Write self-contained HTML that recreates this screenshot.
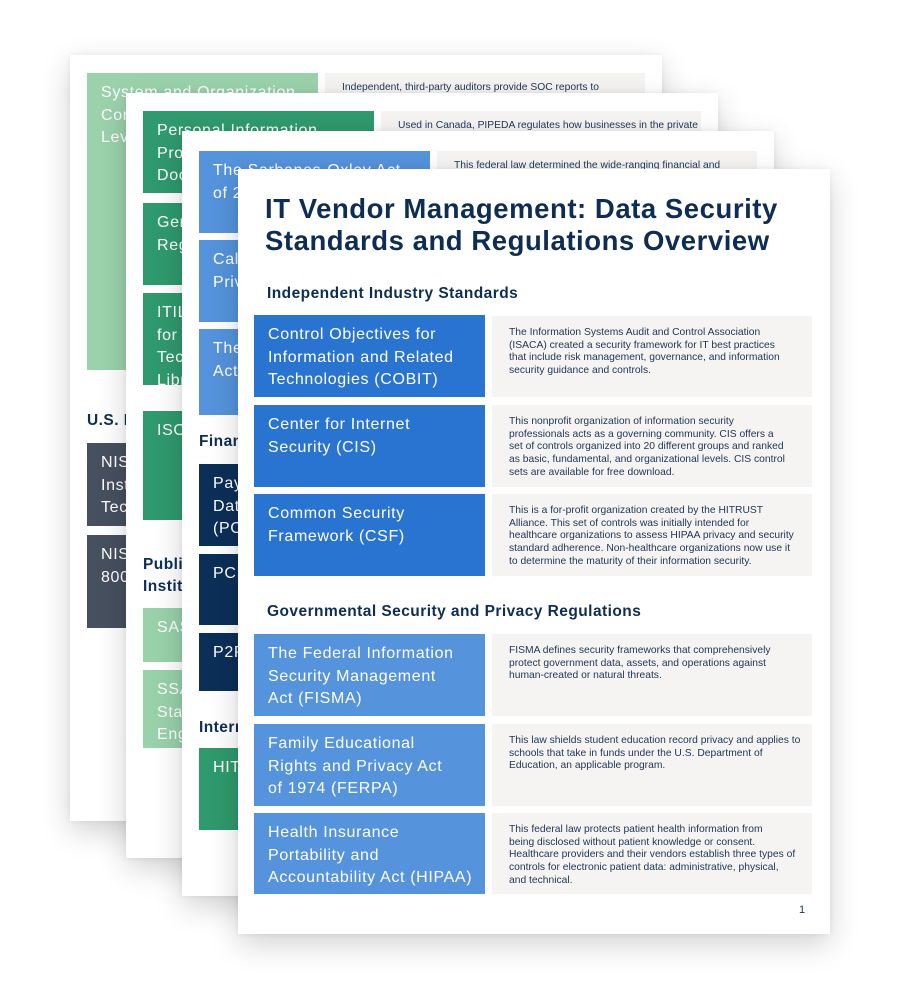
<!DOCTYPE html>
<html><head><meta charset="utf-8">
<style>
*{margin:0;padding:0;box-sizing:border-box}
body{width:900px;height:990px;background:#fff;position:relative;overflow:hidden;font-family:"Liberation Sans",sans-serif}
.pg{position:absolute;width:592px;background:#fff;box-shadow:0 10px 28px rgba(0,0,0,.18),0 0 6px rgba(0,0,0,.06);overflow:hidden}
.b{position:absolute;left:17px;width:231px;color:#fff;font-size:16px;line-height:22.5px;padding:9px 0 0 14px;letter-spacing:.65px;white-space:nowrap;overflow:hidden}
.d{position:absolute;left:255px;width:320px;background:#f5f4f2;color:#1e3556;font-size:10.3px;line-height:12.7px;padding:11px 0 0 17px;white-space:nowrap;overflow:hidden}
.h{position:absolute;left:17px;color:#0e2d55;font-weight:bold;font-size:15.5px;line-height:22px;letter-spacing:.45px;white-space:nowrap}
.g1{background:#9bd2ac}.g2{background:#2f9a6d}.bl{background:#5593dc}.nv{background:#0c2f58}.dk{background:#47505f}.cb{background:#2a74d1}.lg{background:#98d1aa}
</style></head><body>

<div class="pg" style="left:70px;top:55px;height:766px">
<div class="b g1" style="top:18px;height:297px">System and Organization<br>Controls (SOC) Service<br>Levels</div>
<div class="d" style="top:18px;height:297px;padding-top:9px">Independent, third-party auditors provide SOC reports to</div>
<div class="h" style="top:355px">U.S. National Standards</div>
<div class="b dk" style="top:388px;height:83px">NIST National<br>Institute of Standards and<br>Technology</div>
<div class="b dk" style="top:480px;height:93px">NIST Special Publication<br>800-53</div>
</div>

<div class="pg" style="left:126px;top:93px;height:765px">
<div class="b g2" style="top:18px;height:82px">Personal Information<br>Protection and Electronic<br>Documents Act</div>
<div class="d" style="top:18px;height:82px;padding-top:9px">Used in Canada, PIPEDA regulates how businesses in the private</div>
<div class="b g2" style="top:110px;height:82px">General Data Protection<br>Regulation (GDPR)</div>
<div class="b g2" style="top:200px;height:92px">ITIL Information<br>for Information<br>Technology Infrastructure<br>Library</div>
<div class="b g2" style="top:318px;height:109px">ISO 27001</div>
<div class="h" style="top:461px">Public Accounting<br>Institute Standards</div>
<div class="b lg" style="top:515px;height:54px">SAS 70</div>
<div class="b lg" style="top:577px;height:78px">SSAE 16 Statement on<br>Standards for Attestation<br>Engagements</div>
</div>

<div class="pg" style="left:182px;top:131px;height:765px">
<div class="b bl" style="top:20px;height:82px">The Sarbanes-Oxley Act<br>of 2002 (SOX)</div>
<div class="d" style="top:20px;height:82px;padding-top:9px">This federal law determined the wide-ranging financial and</div>
<div class="b bl" style="top:109px;height:82px">California Consumer<br>Privacy Act (CCPA)</div>
<div class="b bl" style="top:198px;height:86px">The Gramm-Leach-Bliley<br>Act (GLBA)</div>
<div class="h" style="top:300px">Financial Industry Standards</div>
<div class="b nv" style="top:333px;height:82px">Payment Card Industry<br>Data Security Standard<br>(PCI DSS)</div>
<div class="b nv" style="top:423px;height:71px">PCI PIN Security</div>
<div class="b nv" style="top:502px;height:58px">P2PE</div>
<div class="h" style="top:586px">International Standards</div>
<div class="b g2" style="top:617px;height:82px">HITRUST</div>
</div>

<div class="pg" style="left:238px;top:169px;height:765px">
<div style="position:absolute;left:27px;top:24px;color:#0e2d55;font-weight:bold;font-size:27.5px;line-height:31.5px;letter-spacing:.55px;white-space:nowrap">IT Vendor Management: Data Security<br>Standards and Regulations Overview</div>
<div class="h" style="top:114px;left:29px">Independent Industry Standards</div>
<div class="b cb" style="left:16px;top:146px;height:82px">Control Objectives for<br>Information and Related<br>Technologies (COBIT)</div>
<div class="d" style="left:254px;top:147px;height:81px">The Information Systems Audit and Control Association<br>(ISACA) created a security framework for IT best practices<br>that include risk management, governance, and information<br>security guidance and controls.</div>
<div class="b cb" style="left:16px;top:236px;height:82px">Center for Internet<br>Security (CIS)</div>
<div class="d" style="left:254px;top:236px;height:82px">This nonprofit organization of information security<br>professionals acts as a governing community. CIS offers a<br>set of controls organized into 20 different groups and ranked<br>as basic, fundamental, and organizational levels. CIS control<br>sets are available for free download.</div>
<div class="b cb" style="left:16px;top:325px;height:82px">Common Security<br>Framework (CSF)</div>
<div class="d" style="left:254px;top:325px;height:82px">This is a for-profit organization created by the HITRUST<br>Alliance. This set of controls was initially intended for<br>healthcare organizations to assess HIPAA privacy and security<br>standard adherence. Non-healthcare organizations now use it<br>to determine the maturity of their information security.</div>
<div class="h" style="top:432px;left:29px">Governmental Security and Privacy Regulations</div>
<div class="b bl" style="left:16px;top:465px;height:82px">The Federal Information<br>Security Management<br>Act (FISMA)</div>
<div class="d" style="left:254px;top:465px;height:82px">FISMA defines security frameworks that comprehensively<br>protect government data, assets, and operations against<br>human-created or natural threats.</div>
<div class="b bl" style="left:16px;top:555px;height:82px">Family Educational<br>Rights and Privacy Act<br>of 1974 (FERPA)</div>
<div class="d" style="left:254px;top:555px;height:82px">This law shields student education record privacy and applies to<br>schools that take in funds under the U.S. Department of<br>Education, an applicable program.</div>
<div class="b bl" style="left:16px;top:644px;height:81px">Health Insurance<br>Portability and<br>Accountability Act (HIPAA)</div>
<div class="d" style="left:254px;top:644px;height:81px">This federal law protects patient health information from<br>being disclosed without patient knowledge or consent.<br>Healthcare providers and their vendors establish three types of<br>controls for electronic patient data: administrative, physical,<br>and technical.</div>
<div style="position:absolute;left:561px;top:735px;font-size:11px;color:#1e3556">1</div>
</div>
</body></html>
